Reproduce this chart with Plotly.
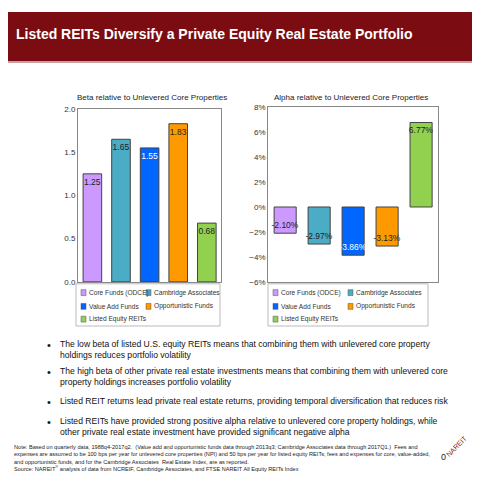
import plotly.graph_objects as go

categories = ["Core Funds (ODCE)", "Cambridge Associates", "Value Add Funds",
              "Opportunistic Funds", "Listed Equity REITs"]
beta = [1.25, 1.65, 1.55, 1.83, 0.68]
alpha = [-2.10, -2.97, -3.86, -3.13, 6.77]
colors = ["#CC99FF", "#4BACC6", "#0066FF", "#FF9900", "#92D050"]
label_colors = ["#222", "#222", "white", "#222", "#222"]

bullets = [
    "The low beta of listed U.S. equity REITs means that combining them with unlevered core property<br>holdings reduces portfolio volatility",
    "The high beta of other private real estate investments means that combining them with unlevered core<br>property holdings increases portfolio volatility",
    "Listed REIT returns lead private real estate returns, providing temporal diversification that reduces risk",
    "Listed REITs have provided strong positive alpha relative to unlevered core property holdings, while<br>other private real estate investment have provided significant negative alpha",
]
note = ("Note: Based on quarterly data, 1988q4-2017q2.  (Value add and opportunistic funds data through 2013q3; Cambridge Associates data through 2017Q1.)  Fees and<br>"
        "expenses are assumed to be 100 bps per year for unlevered core properties (NPI) and 50 bps per year for listed equity REITs; fees and expenses for core, value-added,<br>"
        "and opportunistic funds, and for the Cambridge Associates  Real Estate Index, are as reported.<br>"
        "Source: NAREIT<sup>®</sup> analysis of data from NCREIF, Cambridge Associates, and FTSE NAREIT All Equity REITs Index")

FONT = "Liberation Sans, Arial, sans-serif"

fig = go.Figure()
fig.add_trace(go.Bar(
    x=categories, y=beta, marker=dict(color=colors, line=dict(color="#444", width=1)),
    text=[f"{v:.2f}" for v in beta], textposition="inside", insidetextanchor="end",
    textangle=0, textfont=dict(size=8.5, color=label_colors), width=0.65,
    xaxis="x", yaxis="y", showlegend=False))
fig.add_trace(go.Bar(
    x=categories, y=alpha, marker=dict(color=colors, line=dict(color="#444", width=1)),
    text=[f"{v:.2f}%" for v in alpha], textposition="inside", insidetextanchor="end",
    textangle=0, textfont=dict(size=8.5, color=label_colors), width=0.65,
    xaxis="x2", yaxis="y2", showlegend=False))

ax = dict(showline=True, linecolor="#888", mirror=True, showgrid=False, zeroline=False,
          ticks="", tickfont=dict(size=8, color="#333", family=FONT))
fig.update_layout(
    width=480, height=480, margin=dict(l=0, r=0, t=0, b=0),
    plot_bgcolor="white", paper_bgcolor="white", font=dict(family=FONT),
    uniformtext=dict(minsize=7, mode="show"),
    xaxis=dict(domain=[0.146, 0.444], anchor="y", showticklabels=False, **ax),
    yaxis=dict(domain=[0.427, 0.794], anchor="x", range=[0, 2.0], dtick=0.5,
               tickformat=".1f", **ax),
    xaxis2=dict(domain=[0.542, 0.896], anchor="y2", showticklabels=False, **ax),
    yaxis2=dict(domain=[0.427, 0.798], anchor="x2", range=[-6, 8], dtick=2,
                ticksuffix="%", **ax),
    bargap=0.3,
)

shapes = [dict(type="rect", xref="paper", yref="paper", x0=0, x1=1, y0=0.894, y1=1,
               fillcolor="#7A0C12", line_width=0, layer="below"),
          dict(type="line", xref="paper", yref="paper", x0=0, x1=1, y0=0.894, y1=0.894,
               line=dict(color="#C9A0A0", width=2))]
anns = [dict(text="<b>Listed REITs Diversify a Private Equity Real Estate Portfolio</b>",
             x=0.012, y=0.954, xref="paper", yref="paper", xanchor="left", yanchor="middle",
             showarrow=False, font=dict(size=14, color="white", family=FONT)),
        dict(text="Beta relative to Unlevered Core Properties", x=0.30, y=1 - 87 / 480,
             xref="paper", yref="paper", xanchor="center", yanchor="middle", showarrow=False,
             font=dict(size=8, color="#222")),
        dict(text="Alpha relative to Unlevered Core Properties", x=0.715, y=1 - 87 / 480,
             xref="paper", yref="paper", xanchor="center", yanchor="middle", showarrow=False,
             font=dict(size=8, color="#222"))]

# legends drawn manually
for x0, x1 in [(68, 212), (260, 420)]:
    col2 = x0 + 70 if x0 == 68 else x0 + 80
    positions = [(x0 + 5, 286), (col2, 286), (x0 + 5, 300), (col2, 300), (x0 + 5, 313)]
    shapes.append(dict(type="rect", xref="paper", yref="paper", x0=x0 / 480, x1=x1 / 480,
                       y0=1 - 320 / 480, y1=1 - 277 / 480, line=dict(color="#BBB", width=1)))
    for (px, py), name, c in zip(positions, categories, colors):
        shapes.append(dict(type="rect", xref="paper", yref="paper", x0=px / 480, x1=(px + 5) / 480,
                           y0=1 - (py + 3) / 480, y1=1 - (py - 3) / 480,
                           fillcolor=c, line=dict(color="#555", width=0.5)))
        anns.append(dict(text=name, x=(px + 6) / 480, y=1 - py / 480, xref="paper", yref="paper",
                         xanchor="left", yanchor="middle", showarrow=False,
                         font=dict(size=6.6, color="#333")))

for text, py in zip(bullets, [339, 367, 397, 418]):
    anns.append(dict(text="•", x=37 / 480, y=1 - py / 480, xref="paper", yref="paper",
                     xanchor="left", yanchor="middle", showarrow=False,
                     font=dict(size=11, color="#111")))
    anns.append(dict(text=text, x=50 / 480, y=1 - (py - 8) / 480, xref="paper", yref="paper",
                     xanchor="left", yanchor="top", align="left", showarrow=False,
                     font=dict(size=8.6, color="#111")))
anns.append(dict(text=note, x=4 / 480, y=1 - 438 / 480, xref="paper", yref="paper",
                 xanchor="left", yanchor="top", align="left", showarrow=False,
                 font=dict(size=5.6, color="#222")))
anns.append(dict(text="0", x=440 / 480, y=1 - 461 / 480, xref="paper", yref="paper",
                 showarrow=False, font=dict(size=9, color="#222")))
anns.append(dict(text="NAREIT", x=463 / 480, y=1 - 458 / 480, xref="paper", yref="paper",
                 showarrow=False, textangle=-45, font=dict(size=7, color="#8B1A1A")))

fig.update_layout(shapes=shapes, annotations=anns)
fig.write_html("out.html")
